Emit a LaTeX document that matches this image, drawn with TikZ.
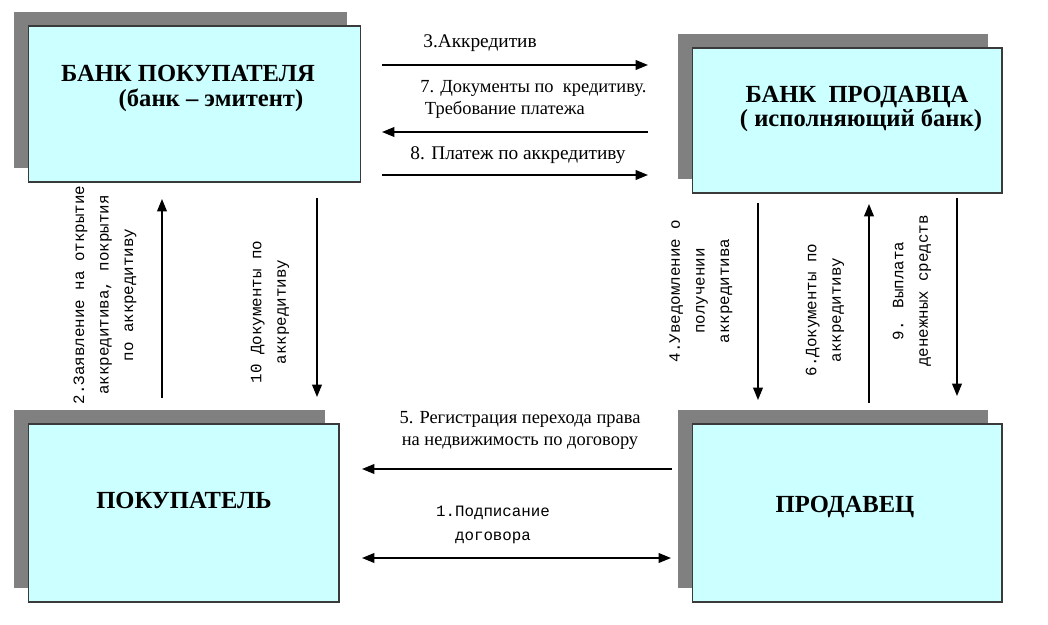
\documentclass[tikz,border=0pt]{standalone}
\usepackage{fontspec}
\setmainfont{Liberation Serif}
\newfontfamily\monofont{Liberation Mono}
\usetikzlibrary{arrows.meta,shadows}
\definecolor{boxfill}{HTML}{CCFFFF}
\definecolor{boxshadow}{HTML}{808080}
\definecolor{boxline}{HTML}{3A3A3A}

\begin{document}
\begin{tikzpicture} [x = 0.02cm, y = -0.02cm,
  party/.style = {draw = boxline, fill = boxfill, line width = 0.6pt, inner sep = 0pt,
    drop shadow = {shadow xshift = -0.28cm, shadow yshift = 0.28cm, fill = boxshadow, opacity = 1}},
  title/.style = {font = \fontsize{14}{16}\selectfont\bfseries, inner sep = 0pt},
  lbl/.style = {font = \fontsize{10.5}{12.5}\selectfont, align = center, inner sep = 0pt},
  mono/.style = {font = \monofont\fontsize{9}{14}\selectfont, align = center, inner sep = 0pt},
  flow/.style = {line width = 0.9pt, -{Triangle[length = 7pt, width = 5.5pt]}},
  flowboth/.style = {line width = 0.9pt, {Triangle[length = 7pt, width = 5.5pt]}-{Triangle[length = 7pt, width = 5.5pt]}}]
\useasboundingbox (0, 0) rectangle (1048, 625);
\node[party, minimum width = 6.66cm, minimum height = 3.12cm] (bankbuyer) at (194.5, 104) {};
\node[party, minimum width = 6.2cm, minimum height = 2.9cm] (banksell) at (847, 120.5) {};
\node[party, minimum width = 6.22cm, minimum height = 3.56cm] (buyer) at (183.5, 513) {};
\node[party, minimum width = 6.2cm, minimum height = 3.56cm] (seller) at (847, 513) {};
\node[title] (bankbuyer1) at (188, 73){БАНК ПОКУПАТЕЛЯ};
\node[title] (bankbuyer2) at (211, 100){(банк – эмитент)};
\node[title] (banksell1) at (857, 97){БАНК\ \ ПРОДАВЦА};
\node[title] (banksell2) at (861, 120){(\ исполняющий банк)};
\node[title] (buyer1) at (184, 500){ПОКУПАТЕЛЬ};
\node[title] (seller1) at (845, 507){ПРОДАВЕЦ};
\coordinate (f3a) at (382, 65);
\coordinate (f3b) at (648, 65);
\coordinate (f7a) at (648, 132);
\coordinate (f7b) at (382, 132);
\coordinate (f8a) at (382, 175);
\coordinate (f8b) at (648, 175);
\coordinate (f2a) at (162, 398);
\coordinate (f2b) at (162, 199);
\coordinate (f10a) at (317, 198);
\coordinate (f10b) at (317, 397);
\coordinate (f4a) at (758, 203);
\coordinate (f4b) at (758, 400);
\coordinate (f6a) at (869, 403);
\coordinate (f6b) at (869, 204);
\coordinate (f9a) at (957, 198);
\coordinate (f9b) at (957, 396);
\coordinate (f5a) at (672, 469);
\coordinate (f5b) at (362, 469);
\coordinate (f1a) at (362, 558);
\coordinate (f1b) at (671, 558);
\draw[flow] (f3a) -- (f3b);
\draw[flow] (f7a) -- (f7b);
\draw[flow] (f8a) -- (f8b);
\draw[flow] (f2a) -- (f2b);
\draw[flow] (f10a) -- (f10b);
\draw[flow] (f4a) -- (f4b);
\draw[flow] (f6a) -- (f6b);
\draw[flow] (f9a) -- (f9b);
\draw[flow] (f5a) -- (f5b);
\draw[flowboth] (f1a) -- (f1b);
\node[lbl, font = \fontsize{11}{13}\selectfont] (t3) at (480, 43){3.Аккредитив};
\node[lbl, align = left, anchor = west] (t7) at (420, 99){7. Документы по\ \ кредитиву.\\\ Требование платежа};
\node[lbl, font = \fontsize{11}{13}\selectfont] (t8) at (518, 155){8. Платеж по аккредитиву};
\node[lbl] (t5) at (520, 430){5. Регистрация перехода права\\на недвижимость по договору};
\node[mono] (t1) at (493, 525){1.Подписание\\договора};
\node[mono, rotate = 90] (t2) at (105, 295){2.Заявление на открытие\\аккредитива, покрытия\\по аккредитиву};
\node[mono, rotate = 90] (t10) at (270, 312){10 Документы по\\аккредитиву};
\node[mono, rotate = 90] (t4) at (701, 291){4.Уведомление о\\получении\\аккредитива};
\node[mono, rotate = 90] (t6) at (825, 310){6.Документы по\\аккредитиву};
\node[mono, rotate = 90] (t9) at (912, 291){9. Выплата\\денежных средств};
\end{tikzpicture}
\end{document}
